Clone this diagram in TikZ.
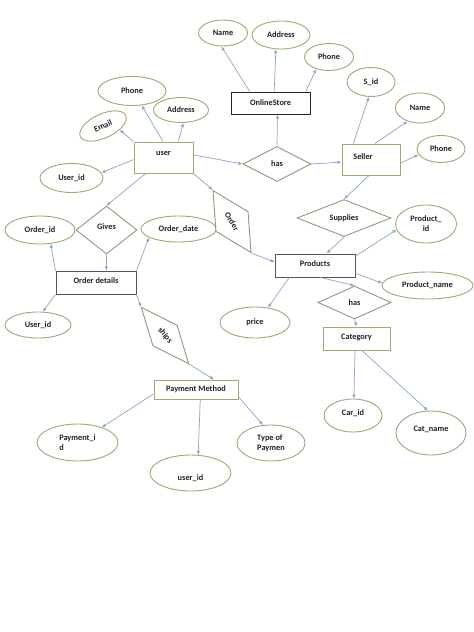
\documentclass[tikz,border=0pt]{standalone}
\usepackage{fontspec}
\setmainfont{Carlito}
\usetikzlibrary{shapes.geometric,arrows.meta}
\definecolor{attrgreen}{HTML}{98AC76}
\definecolor{relgrey}{HTML}{8C9C7A}
\definecolor{linkblue}{HTML}{8CA7C8}
\definecolor{txtcol}{HTML}{222222}
\definecolor{entgrey}{HTML}{555555}
\newcommand{\mvtext}[2]{\raisebox{#1}[\height][\depth]{#2}}
\begin{document}
\begin{tikzpicture}[x=1pt,y=-1pt,
  every node/.style={font=\fontsize{8.3}{10}\selectfont\bfseries, text=txtcol, inner sep=0pt},
  attr/.style={ellipse, draw=attrgreen, line width=0.9pt, fill=white},
  ent/.style={rectangle, draw=attrgreen, line width=1pt, fill=white},
  rel/.style={diamond, draw=relgrey, line width=0.9pt, fill=white},
  con/.style={draw=linkblue, line width=0.7pt, -{Latex[length=4pt,width=3.5pt]}}
]
\useasboundingbox[fill=white] (0,0) rectangle (474,632);

% OnlineStore and its attributes
\node[ent, draw=black!85, minimum width=79pt, minimum height=22pt] (store) at (270.5,103) {OnlineStore};
\node[attr, minimum width=49pt, minimum height=26pt] (sName) at (223,33) {Name};
\node[attr, minimum width=58pt, minimum height=28pt] (sAddr) at (281,35) {Address};
\node[attr, minimum width=49pt, minimum height=27pt] (sPhone) at (329,57) {Phone};

% Seller
\node[ent, minimum width=58pt, minimum height=31pt] (seller) at (371,159.5) {\mvtext{3pt}{Seller\kern16pt}};
\node[attr, minimum width=48pt, minimum height=29pt] (slId) at (371,82) {S\_id};
\node[attr, minimum width=49pt, minimum height=30pt] (slName) at (420,108) {Name};
\node[attr, minimum width=48pt, minimum height=27pt] (slPhone) at (441,149) {Phone};

% user
\node[ent, minimum width=59pt, minimum height=31pt] (user) at (163.5,157.5) {\mvtext{4pt}{user}};
\node[attr, minimum width=68pt, minimum height=29pt] (uPhone) at (132,91) {Phone};
\node[attr, minimum width=55pt, minimum height=25pt] (uAddr) at (181,110) {Address};
\node[attr, rotate=25, minimum width=50pt, minimum height=24pt] (uEmail) at (103,126) {Email};
\node[attr, minimum width=63pt, minimum height=29pt] (uId) at (71.5,178) {User\_id};

% has (user-seller)
\node[rel, minimum width=68pt, minimum height=35pt] (has1) at (277,164) {has};

% Order details
\node[rel, minimum width=61pt, minimum height=48pt] (gives) at (106.5,230) {\mvtext{3pt}{Gives}};
\node[ent, draw=entgrey, minimum width=80pt, minimum height=23pt] (od) at (96,282.5) {\mvtext{2pt}{Order details}};
\node[attr, minimum width=70pt, minimum height=28pt] (oId) at (40,230) {Order\_id};
\node[attr, minimum width=75pt, minimum height=26pt] (oDate) at (178.5,229) {Order\_date};
\node[attr, minimum width=66pt, minimum height=26pt] (odUid) at (38,325) {User\_id};

% Order relationship
\node[rel, rotate=-58.5, minimum width=73pt, minimum height=38pt] (order) at (232,221.5) {Order};

% Products
\node[rel, minimum width=94pt, minimum height=37pt] (supplies) at (344,218) {Supplies};
\node[ent, draw=entgrey, minimum width=80pt, minimum height=23pt] (products) at (315,265.5) {\mvtext{2pt}{Products}};
\node[attr, minimum width=61pt, minimum height=38pt, align=center] (pId) at (426,224) {Product\_\\id};
\node[attr, minimum width=91pt, minimum height=27pt] (pName) at (427.5,285.5) {Product\_name};
\node[attr, minimum width=70pt, minimum height=31pt] (price) at (255,322.5) {price};
\node[rel, minimum width=73pt, minimum height=33pt] (has2) at (354.5,302.5) {has};

% Category
\node[ent, minimum width=67pt, minimum height=23pt] (category) at (356.5,338.5) {\mvtext{1pt}{Category}};
\node[attr, minimum width=58pt, minimum height=33pt] (carId) at (353,415.5) {\mvtext{2pt}{Car\_id}};
\node[attr, minimum width=70pt, minimum height=44pt] (catName) at (431,433) {\mvtext{4pt}{Cat\_name}};

% ships & Payment Method
\node[rel, rotate=-50, minimum width=74pt, minimum height=32pt] (ships) at (165,335.5) {ships};
\node[ent, minimum width=84pt, minimum height=19pt] (pm) at (196,389.5) {Payment Method};
\node[attr, minimum width=81pt, minimum height=37pt, align=left] (pmId) at (77.5,442.5) {Payment\_i\\d};
\node[attr, minimum width=81pt, minimum height=36pt] (pmUid) at (190.5,473) {\mvtext{-5pt}{user\_id}};
\node[attr, minimum width=68pt, minimum height=36pt, align=left] (pmType) at (271,443) {Type of\\Paymen};

% connectors
\draw[con] (store.151) -- (sName.263);
\draw[con] (store.72) -- (sAddr.250);
\draw[con] (store.18) -- (sPhone.223);
\draw[con] (has1.north) -- (store.301);
\draw[con] (user.5) -- (has1.west);
\draw[con] (has1.east) -- (seller.185);
\draw[con] (seller.138) -- (slId.262);
\draw[con] (seller.76) -- (slName.227);
\draw[con] (seller.353) -- (slPhone.194);
\draw[con] (seller.263) -- (supplies.north);
\draw[con] (user.92) -- (uPhone.304);
\draw[con] (user.47) -- (uAddr.280);
\draw[con] (user.north west) -- (uEmail.322);
\draw[con] (user.184) -- (uId.10);
\draw[con] (user.222) -- (gives.north);
\draw[con] (gives.south) -- (od.49);
\draw[con] (od.164) -- (oId.308);
\draw[con] (od.north east) -- (oDate.196);
\draw[con] (od.south west) -- (odUid.70);
\draw[con] (user.south east) -- (order.west);
\draw[con] (order.east) -- (products.175);
\draw[con] (supplies.south) -- (products.46);
\draw[con] (products.13) -- (pId.191);
\draw[con] (products.349) -- (pName.177);
\draw[con] (products.294) -- (has2.north);
\draw[con] (has2.south) -- (category.north);
\draw[con] (products.205) -- (price.49);
\draw[con] (od.south east) -- (ships.west);
\draw[con] (ships.east) -- (pm.29);
\draw[con] (pm.186) -- (pmId.32);
\draw[con] (pm.293) -- (pmUid.67);
\draw[con] (pm.350) -- (pmType.114);
\draw[con] (category.263) -- (carId.87);
\draw[con] (category.294) -- (catName.98);
\end{tikzpicture}
\end{document}
